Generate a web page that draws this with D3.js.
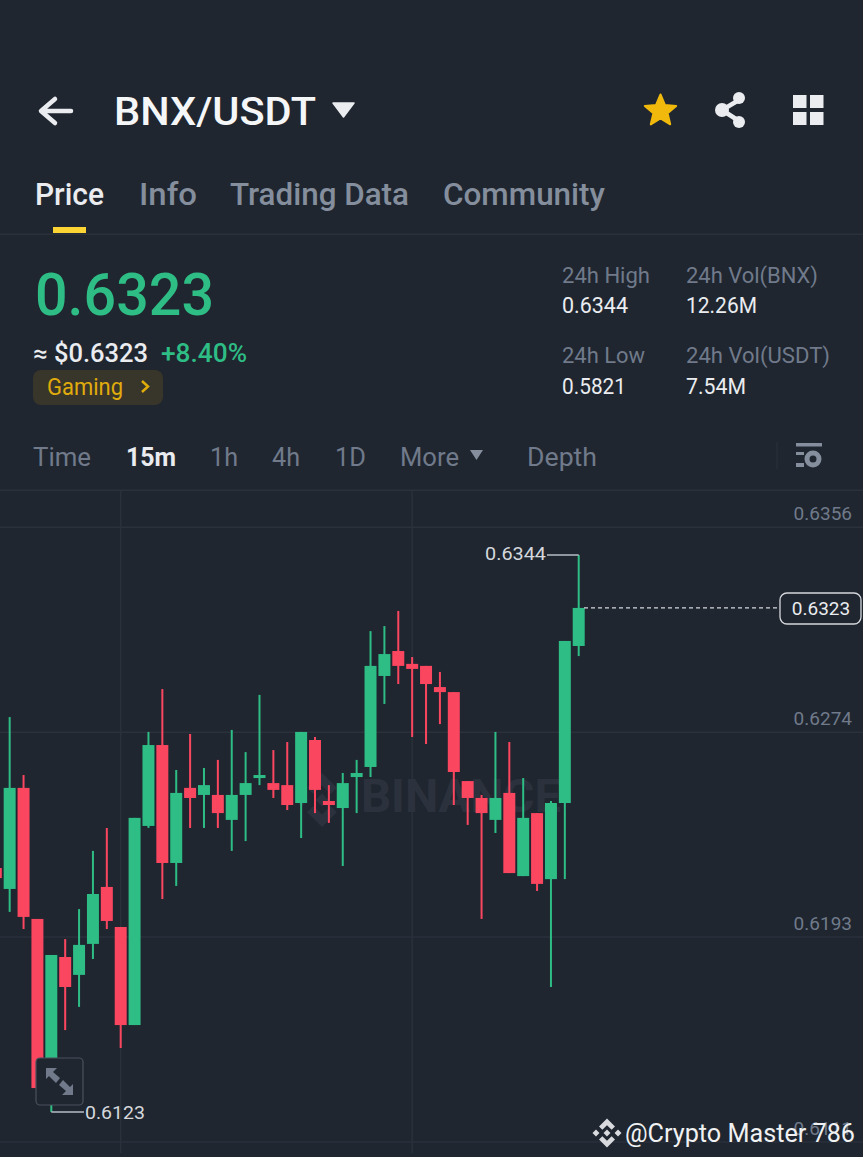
<!DOCTYPE html>
<html><head><meta charset="utf-8">
<script src="https://cdn.jsdelivr.net/npm/d3@7"></script>
<style>html,body{margin:0;padding:0;background:#1f2630}svg{display:block}text{font-family:Roboto,"Noto Sans",sans-serif}</style>
</head><body><svg id="c" width="863" height="1157"></svg>
<script>
const opens =[.62198,.62115,.62516,.61996,.61317,.61845,.61774,.61897,.62123,.61964,.61575,.62365,.62686,.62218,.62516,.62488,.62488,.62389,.62488,.62555,.62535,.62527,.62456,.62706,.62464,.62436,.62559,.62599,.62960,.63059,.63008,.63000,.62916,.62896,.62543,.62476,.62389,.62496,.62166,.62416,.62154,.62456,.63079];
const closes=[.62158,.62516,.62004,.61325,.61853,.61726,.61893,.62095,.61988,.61575,.62397,.62686,.62218,.62496,.62476,.62527,.62416,.62488,.62535,.62567,.62508,.62448,.62738,.62508,.62448,.62535,.62575,.63000,.63047,.63000,.62988,.62928,.62896,.62579,.62476,.62416,.62476,.62178,.62397,.62135,.62456,.63099,.63230];
const highs =[.62206,.62797,.62567,.61996,.61853,.61916,.62035,.62266,.62357,.61964,.62397,.62738,.62908,.62587,.62730,.62595,.62627,.62746,.62658,.62885,.62666,.62698,.62738,.62718,.62527,.62575,.62627,.63138,.63158,.63218,.63035,.63000,.62976,.62896,.62543,.62488,.62738,.62698,.62555,.62416,.62464,.63099,.63440];
const lows  =[.62151,.62024,.61956,.61325,.61230,.61555,.61647,.61837,.61956,.61484,.61575,.62357,.62075,.62127,.62357,.62357,.62357,.62266,.62305,.62527,.62476,.62428,.62317,.62416,.62377,.62206,.62416,.62559,.62849,.62928,.62718,.62690,.62769,.62448,.62369,.61996,.62337,.62178,.62166,.62107,.61726,.62154,.63039];
const gridValues=[.63552,.62739,.61926,.61113];
const tickLabels=["0.6356","0.6274","0.6193","0.6111"];
const timeGridIdx=[9,30];
const lastPrice=.6323, maxPrice=.6344, minPrice=.6123;
const tabs=[["Price",35,"#eaecef",69],["Info",139,"#848e9c",58],["Trading Data",230,"#848e9c",179],["Community",443,"#848e9c",162]];
const intervals=[["Time",33,"#707a8a",400,58],["15m",126,"#eaecef",700,50],["1h",210,"#707a8a",400,28],["4h",272,"#707a8a",400,28],["1D",335,"#707a8a",400,31],["More",400,"#707a8a",400,59],["Depth",527,"#707a8a",400,70]];
const stats=[["24h High","0.6344",562,283,313,88,66],["24h Vol(BNX)","12.26M",686,283,313,132,71],["24h Low","0.5821",562,363,394,83,64],["24h Vol(USDT)","7.54M",686,363,394,144,60]];

const UP="#2ebd85",DOWN="#fb4660",GRID="#2a313b",W=863,H=1157;
const svg=d3.select("#c");
const T=(s,x,y,size,fill,o={})=>{const t=svg.append("text").text(s).attr("x",x).attr("y",y).attr("font-size",size).attr("fill",fill)
  .attr("font-weight",o.w||400).attr("text-anchor",o.a||"start");
  if(o.tl)t.attr("textLength",o.tl).attr("lengthAdjust","spacingAndGlyphs");
  return t;};

// header
svg.append("path").attr("d","M71 111H42M55 99L41 111L55 123").attr("fill","none").attr("stroke","#eaecef").attr("stroke-width",4.5).attr("stroke-linejoin","round").attr("stroke-linecap","round");
T("BNX/USDT",114,125,38,"#f5f6f7",{w:500,tl:202});
svg.append("path").attr("d","M333 103H354L343.500 117Z").attr("fill","#eaecef").attr("stroke","#eaecef").attr("stroke-width",1.5).attr("stroke-linejoin","round");
const star=d3.range(10).map(i=>{const r=i%2?7.5:16.5,a=-Math.PI/2+i*Math.PI/5;return [660.5+r*Math.cos(a),111+r*Math.sin(a)];});
svg.append("path").attr("d",d3.line()(star)+"Z").attr("fill","#f0b90b").attr("stroke","#f0b90b").attr("stroke-width",2).attr("stroke-linejoin","round");
svg.append("path").attr("d","M739 100L722 110L739 121").attr("fill","none").attr("stroke","#eaecef").attr("stroke-width",4.5);
[[739,98,6],[722,110,7],[739,122,6]].forEach(c=>svg.append("circle").attr("cx",c[0]).attr("cy",c[1]).attr("r",c[2]).attr("fill","#eaecef"));
[[793,95],[810,95],[793,112],[810,112]].forEach(p=>svg.append("rect").attr("x",p[0]).attr("y",p[1]).attr("width",13.500).attr("height",13).attr("fill","#eaecef"));

tabs.forEach(t=>T(t[0],t[1],205,31,t[2],{w:t[0]==="Price"?500:500,tl:t[3]}));
svg.append("rect").attr("x",53).attr("y",227).attr("width",33).attr("height",6).attr("fill","#fcd535");
svg.append("rect").attr("x",0).attr("y",233.500).attr("width",W).attr("height",1.500).attr("fill",GRID);

T("0.6323",35,315,60,UP,{w:500,tl:179});
T("≈ $0.6323",33,362,25,"#eaecef",{w:500,tl:115});
T("+8.40%",161,362,25,UP,{w:500,tl:86});
svg.append("rect").attr("x",33).attr("y",370).attr("width",130).attr("height",35).attr("rx",8).attr("fill","#38352a");
T("Gaming",47,395,23,"#e0ac0c",{tl:76});
svg.append("path").attr("d","M142 381L148 386.500L142 392").attr("fill","none").attr("stroke","#e0ac0c").attr("stroke-width",2.500);
stats.forEach(s=>{T(s[0],s[2],s[3],22,"#707a8a",{tl:s[5]});T(s[1],s[2],s[4],22.5,"#eaecef",{w:400,tl:s[6]});});

intervals.forEach(t=>T(t[0],t[1],466,25.5,t[2],{w:t[3],tl:t[4]}));
svg.append("path").attr("d","M470 450H483L476.500 460Z").attr("fill","#848e9c");
svg.append("rect").attr("x",776.500).attr("y",442).attr("width",1).attr("height",27).attr("fill",GRID);
svg.append("path").attr("d","M796 443H822V446.500H796ZM796 452H804V455H796ZM796 463H804V467H796Z").attr("fill","#848e9c");
svg.append("circle").attr("cx",813).attr("cy",459).attr("r",6).attr("fill","none").attr("stroke","#848e9c").attr("stroke-width",5);

// scales
const y=d3.scaleLinear().domain([maxPrice,minPrice]).range([555,1112]);
const step=13.9,n=opens.length;
const x=d3.scaleBand().domain(d3.range(n)).range([-4.2-step/2,578.7+step/2]).paddingInner(1-12/step).paddingOuter((1-12/step)/2);
const cx=i=>x(i)+x.bandwidth()/2;

// grid
svg.append("rect").attr("x",0).attr("y",489.500).attr("width",W).attr("height",1.500).attr("fill",GRID);
const axis=d3.axisRight(y).tickValues(gridValues).tickSize(W).tickFormat((d,i)=>tickLabels[i]);
const ga=svg.append("g").call(axis);
ga.select(".domain").remove();
ga.selectAll("line").attr("stroke",GRID).attr("stroke-width",1.500);
ga.selectAll("text").attr("x",852).attr("dy",-7).attr("text-anchor","end").attr("font-size",19).attr("fill","#707a8a").attr("font-family","Roboto");
svg.selectAll(".vg").data(timeGridIdx).join("rect").attr("class","vg").attr("x",d=>cx(d)-.75).attr("y",490).attr("width",1.500).attr("height",663).attr("fill",GRID);

// watermark
const dm=(cx0,cy0,s,col)=>{const g=svg.append("g").attr("transform",`translate(${cx0},${cy0}) scale(${s})`).attr("fill",col);
 g.append("path").attr("d","M0 -10L-5.500 -4.500L-3.200 -2.200L0 -5.400L3.200 -2.200L5.500 -4.500ZM0 10L-5.500 4.500L-3.200 2.200L0 5.400L3.200 2.200L5.500 4.500ZM-10 0L-7.600 -2.400L-5.200 0L-7.600 2.400ZM10 0L7.600 -2.400L5.200 0L7.600 2.400ZM0 -2.400L2.400 0L0 2.400L-2.400 0Z");};
dm(322,800,2.7,"#2c323d");
T("BINANCE",361,812,46,"#2c323d",{w:700,tl:200});

// candles
const c=d3.range(n).map(i=>({i,o:opens[i],c:closes[i],h:highs[i],l:lows[i]}));
const col=d=>d.c>=d.o?UP:DOWN;
svg.selectAll(".w").data(c).join("rect").attr("class","w").attr("x",d=>cx(d.i)-1).attr("width",2)
  .attr("y",d=>y(d.h)).attr("height",d=>y(d.l)-y(d.h)).attr("fill",col);
svg.selectAll(".b").data(c).join("rect").attr("class","b").attr("x",d=>x(d.i)).attr("width",x.bandwidth())
  .attr("y",d=>y(Math.max(d.o,d.c))).attr("height",d=>Math.max(2,Math.abs(y(d.o)-y(d.c)))).attr("fill",col);

// price annotations
const iMax=highs.indexOf(maxPrice), iMin=lows.indexOf(minPrice);
svg.append("path").attr("d",`M547 ${y(maxPrice)}H${cx(iMax)}`).attr("stroke","#b7bdc6").attr("stroke-width",1.500).attr("fill","none");
T(maxPrice.toFixed(4),485,560,19,"#d5d8dc",{tl:61});
svg.append("path").attr("d",`M${cx(iMin)} ${y(minPrice)}H84`).attr("stroke","#b7bdc6").attr("stroke-width",1.500).attr("fill","none");
T(minPrice.toFixed(4),85,1119,19,"#d5d8dc",{tl:60});
svg.append("line").attr("x1",584).attr("x2",778).attr("y1",y(lastPrice)).attr("y2",y(lastPrice)).attr("stroke","#d5d8dc").attr("stroke-width",1.200).attr("stroke-dasharray","4 3");
svg.append("rect").attr("x",780).attr("y",593).attr("width",81).attr("height",31).attr("rx",7).attr("fill","#1f2630").attr("stroke","#d5d8dc").attr("stroke-width",1.300);
T(lastPrice.toFixed(4),821,615,19,"#eaecef",{a:"middle"});

// expand button
svg.append("rect").attr("x",36).attr("y",1058).attr("width",47).attr("height",47).attr("rx",4).attr("fill","#1f2630").attr("stroke","#4a515c").attr("stroke-width",1.200);
svg.append("path").attr("d","M46 1068H57L53 1072L60 1078L56 1083L49 1076L46 1079ZM73 1095H62L66 1091L59 1085L63 1080L70 1087L73 1084Z").attr("fill","#707a8a");

// credit
dm(607,1133,1.45,"#d8dadd");
T("@Crypto Master 786",625,1142,25,"#f0f1f2",{tl:230});
</script></body></html>
